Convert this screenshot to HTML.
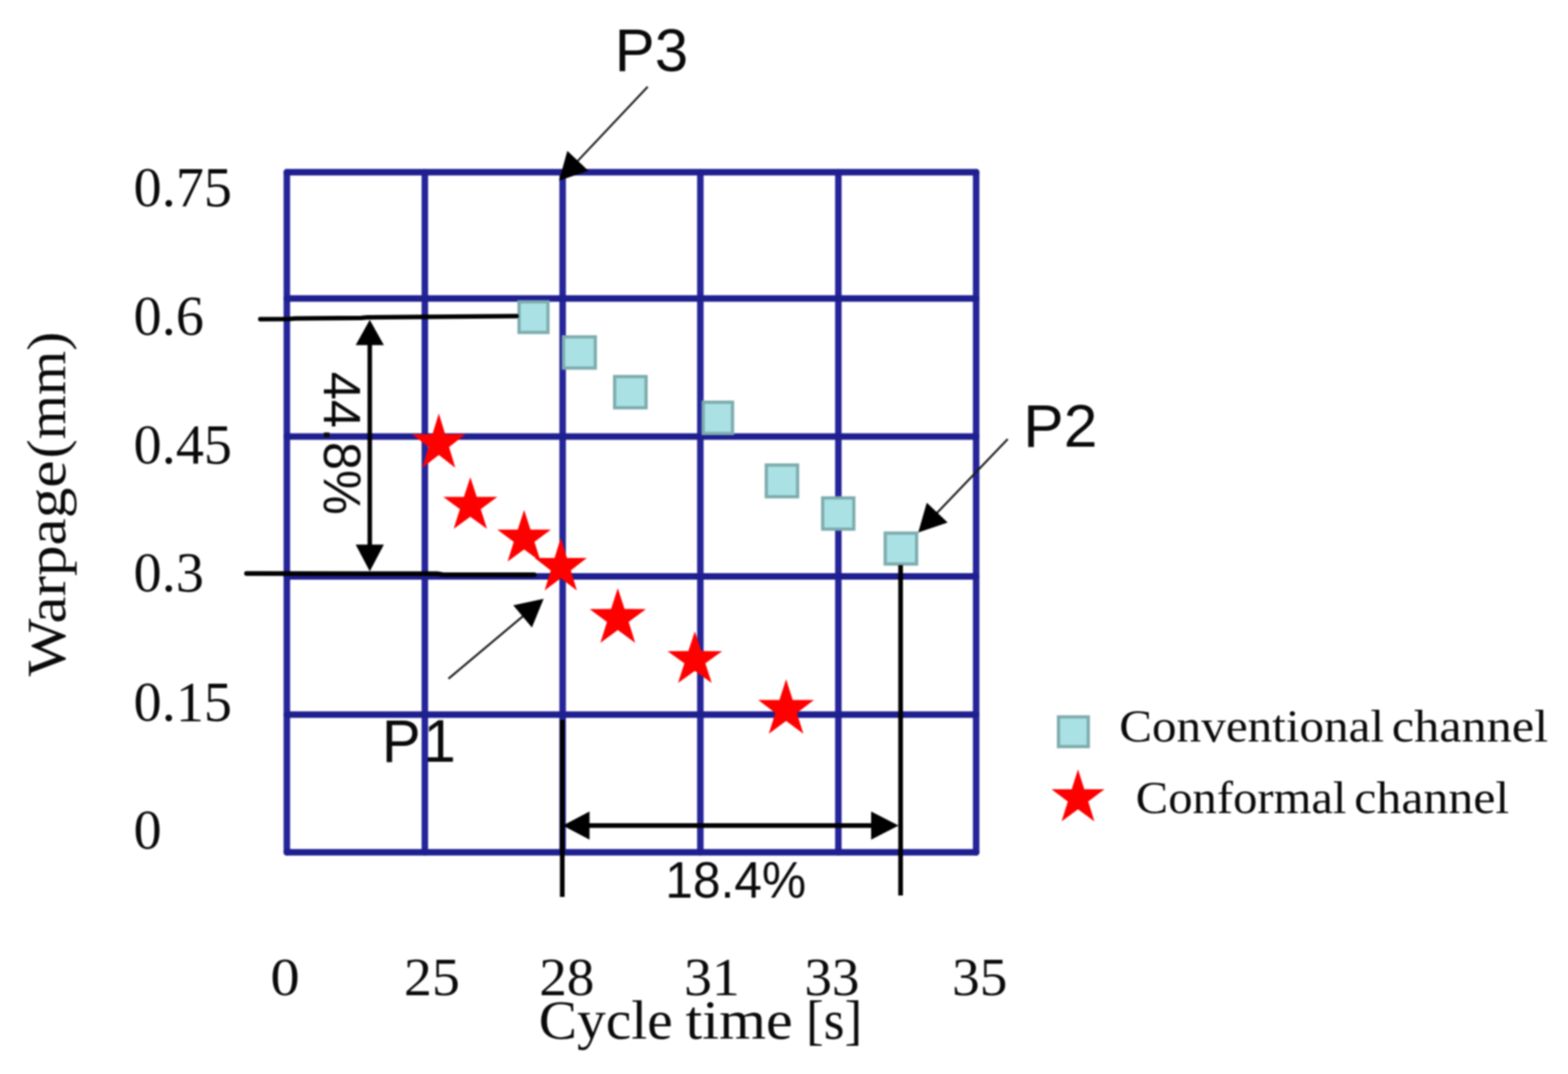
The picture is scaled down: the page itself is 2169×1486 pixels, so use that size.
<!DOCTYPE html>
<html lang="en"><head><meta charset="utf-8"><title>Warpage vs cycle time</title>
<style>html,body{margin:0;padding:0;background:#fff;}body{width:2169px;height:1486px;overflow:hidden;}svg{display:block;filter:blur(1.0px);}text{fill:#0a0a0a;}</style></head><body>
<svg width="2169" height="1486" viewBox="0 0 2169 1486">
<rect x="-20" y="-20" width="2209" height="1526" fill="#fff"/>
<g stroke-width="9" fill="none" stroke-linecap="round">
<line x1="396.8" y1="238.3" x2="396.8" y2="1179.3" stroke="#25259a"/>
<line x1="587.7" y1="238.3" x2="587.7" y2="1179.3" stroke="#25259a"/>
<line x1="778.3" y1="238.3" x2="778.3" y2="1179.3" stroke="#25259a"/>
<line x1="968.8" y1="238.3" x2="968.8" y2="1179.3" stroke="#25259a"/>
<line x1="1159.7" y1="238.3" x2="1159.7" y2="1179.3" stroke="#25259a"/>
<line x1="1350.3" y1="238.3" x2="1350.3" y2="1179.3" stroke="#25259a"/>
<line x1="396.8" y1="238.3" x2="1350.3" y2="238.3" stroke="#1f1f90"/>
<line x1="396.8" y1="413.1" x2="1350.3" y2="413.1" stroke="#1f1f90"/>
<line x1="396.8" y1="604.0" x2="1350.3" y2="604.0" stroke="#1f1f90"/>
<line x1="396.8" y1="797.6" x2="1350.3" y2="797.6" stroke="#1f1f90"/>
<line x1="396.8" y1="988.7" x2="1350.3" y2="988.7" stroke="#1f1f90"/>
<line x1="396.8" y1="1179.3" x2="1350.3" y2="1179.3" stroke="#1f1f90"/>
</g>
<rect x="718.0" y="417.6" width="40.0" height="42.4" fill="#a9e1e4" stroke="#7eacae" stroke-width="4.5"/>
<rect x="779.5" y="466.1" width="44.0" height="43.2" fill="#a9e1e4" stroke="#7eacae" stroke-width="4.5"/>
<rect x="850.2" y="521.0" width="43.5" height="43.2" fill="#a9e1e4" stroke="#7eacae" stroke-width="4.5"/>
<rect x="972.8" y="556.5" width="40.5" height="43.2" fill="#a9e1e4" stroke="#7eacae" stroke-width="4.5"/>
<rect x="1060.0" y="643.4" width="43.3" height="43.9" fill="#a9e1e4" stroke="#7eacae" stroke-width="4.5"/>
<rect x="1138.0" y="688.9" width="43.1" height="43.2" fill="#a9e1e4" stroke="#7eacae" stroke-width="4.5"/>
<rect x="1224.5" y="737.6" width="43.5" height="42.8" fill="#a9e1e4" stroke="#7eacae" stroke-width="4.5"/>
<g stroke="#000" fill="none" stroke-linecap="butt">
<polyline points="360,441.6 400,441.4 408,440.6 500,439.9 508,439.2 714.5,437.4" stroke-width="6.2" stroke-linecap="round"/>
<polyline points="341,793.4 605,793.8 612,795 739,795.2" stroke-width="6.5" stroke-linecap="round"/>
<line x1="511.5" y1="470" x2="511.5" y2="760" stroke-width="6.2"/>
<line x1="777.8" y1="996" x2="777.8" y2="1241" stroke-width="6.5"/>
<line x1="1245.8" y1="782" x2="1245.8" y2="1239" stroke-width="6.5"/>
<line x1="810" y1="1142.2" x2="1210" y2="1142.2" stroke-width="6.5"/>
</g>
<polygon points="607.0,572.1 615.8,600.7 643.9,600.8 621.2,618.5 629.8,647.2 607.0,629.6 584.2,647.2 592.8,618.5 570.1,600.8 598.2,600.7" fill="#ff0000"/>
<polygon points="650.6,660.2 659.5,687.4 688.0,687.5 665.0,704.4 673.7,731.7 650.6,714.9 627.5,731.7 636.2,704.4 613.2,687.5 641.7,687.4" fill="#ff0000"/>
<polygon points="725.0,705.5 733.8,732.7 762.1,732.8 739.3,749.7 747.9,777.0 725.0,760.2 702.1,777.0 710.7,749.7 687.9,732.8 716.2,732.7" fill="#ff0000"/>
<polygon points="775.7,744.2 784.3,771.9 811.8,772.0 789.6,789.2 798.0,816.9 775.7,799.9 753.4,816.9 761.8,789.2 739.6,772.0 767.1,771.9" fill="#ff0000"/>
<polygon points="854.6,813.8 863.9,842.6 893.6,842.7 869.6,860.6 878.7,889.4 854.6,871.7 830.5,889.4 839.6,860.6 815.6,842.7 845.3,842.6" fill="#ff0000"/>
<polygon points="961.2,873.5 970.2,900.8 999.0,900.9 975.7,917.8 984.5,945.1 961.2,928.3 937.9,945.1 946.7,917.8 923.4,900.9 952.2,900.8" fill="#ff0000"/>
<polygon points="1087.4,939.7 1096.6,968.5 1126.0,968.6 1102.3,986.5 1111.3,1015.3 1087.4,997.6 1063.5,1015.3 1072.5,986.5 1048.8,968.6 1078.2,968.5" fill="#ff0000"/>
<polygon points="511.5,442.5 531.0,477.5 492.0,477.5" fill="#000"/>
<polygon points="511.5,790.5 492.0,753.5 531.0,753.5" fill="#000"/>
<polygon points="778.5,1142.2 815.5,1122.7 815.5,1161.7" fill="#000"/>
<polygon points="1243.0,1142.2 1205.0,1161.7 1205.0,1122.7" fill="#000"/>
<line x1="896.0" y1="120.0" x2="796.6" y2="225.4" stroke="#1c1c1c" stroke-width="2.7"/><polygon points="773.3,250.1 784.8,208.7 813.9,236.2" fill="#000"/>
<line x1="1394.0" y1="607.5" x2="1293.7" y2="712.2" stroke="#1c1c1c" stroke-width="2.7"/><polygon points="1270.2,736.7 1282.0,695.4 1310.9,723.1" fill="#000"/>
<line x1="620.3" y1="939.1" x2="726.0" y2="850.4" stroke="#1c1c1c" stroke-width="2.7"/><polygon points="752.0,828.5 735.8,868.3 710.0,837.6" fill="#000"/>
<text y="284.77" font-family='"Liberation Serif", serif' font-size="77.5"><tspan x="184.89" textLength="136.03" lengthAdjust="spacingAndGlyphs">0.75</tspan></text>
<text y="462.57" font-family='"Liberation Serif", serif' font-size="77.5"><tspan x="184.89" textLength="97.17" lengthAdjust="spacingAndGlyphs">0.6</tspan></text>
<text y="640.97" font-family='"Liberation Serif", serif' font-size="77.5"><tspan x="184.89" textLength="136.03" lengthAdjust="spacingAndGlyphs">0.45</tspan></text>
<text y="818.27" font-family='"Liberation Serif", serif' font-size="77.5"><tspan x="184.89" textLength="97.17" lengthAdjust="spacingAndGlyphs">0.3</tspan></text>
<text y="996.57" font-family='"Liberation Serif", serif' font-size="77.5"><tspan x="184.89" textLength="136.03" lengthAdjust="spacingAndGlyphs">0.15</tspan></text>
<text y="1174.37" font-family='"Liberation Serif", serif' font-size="77.5"><tspan x="184.89" textLength="38.87" lengthAdjust="spacingAndGlyphs">0</tspan></text>
<text y="1377.25" font-family='"Liberation Serif", serif' font-size="75"><tspan x="373.96" textLength="40.59" lengthAdjust="spacingAndGlyphs">0</tspan></text>
<text y="1377.25" font-family='"Liberation Serif", serif' font-size="75"><tspan x="558.71" textLength="77.38" lengthAdjust="spacingAndGlyphs">25</tspan></text>
<text y="1377.25" font-family='"Liberation Serif", serif' font-size="75"><tspan x="745.96" textLength="76.30" lengthAdjust="spacingAndGlyphs">28</tspan></text>
<text y="1377.25" font-family='"Liberation Serif", serif' font-size="75"><tspan x="946.24" textLength="77.09" lengthAdjust="spacingAndGlyphs">31</tspan></text>
<text y="1377.25" font-family='"Liberation Serif", serif' font-size="75"><tspan x="1112.68" textLength="76.16" lengthAdjust="spacingAndGlyphs">33</tspan></text>
<text y="1377.25" font-family='"Liberation Serif", serif' font-size="75"><tspan x="1316.97" textLength="76.49" lengthAdjust="spacingAndGlyphs">35</tspan></text>
<text y="1436.74" font-family='"Liberation Serif", serif' font-size="76"><tspan x="745.32" textLength="185.16" lengthAdjust="spacingAndGlyphs">Cycle</tspan> <tspan x="948.37" textLength="148.25" lengthAdjust="spacingAndGlyphs">time</tspan> <tspan x="1115.09" textLength="77.56" lengthAdjust="spacingAndGlyphs">[s]</tspan></text>
<text transform="translate(90.40,936.40) rotate(-90)" y="0" font-family='"Liberation Serif", serif' font-size="77"><tspan x="0.60" textLength="298.63" lengthAdjust="spacingAndGlyphs">Warpage</tspan><tspan x="302.15" textLength="175.24" lengthAdjust="spacingAndGlyphs">(mm)</tspan></text>
<text y="1025.70" font-family='"Liberation Serif", serif' font-size="63"><tspan x="1548.28" textLength="366.43" lengthAdjust="spacingAndGlyphs">Conventional</tspan> <tspan x="1925.39" textLength="216.16" lengthAdjust="spacingAndGlyphs">channel</tspan></text>
<text y="1125.30" font-family='"Liberation Serif", serif' font-size="63"><tspan x="1571.11" textLength="291.44" lengthAdjust="spacingAndGlyphs">Conformal</tspan> <tspan x="1873.31" textLength="214.43" lengthAdjust="spacingAndGlyphs">channel</tspan></text>
<rect x="1464.2" y="991.9" width="41.2" height="41.1" fill="#a9e1e4" stroke="#7eacae" stroke-width="4.5"/>
<polygon points="1491.2,1064.6 1499.9,1092.0 1527.9,1092.1 1505.3,1109.1 1513.9,1136.6 1491.2,1119.7 1468.5,1136.6 1477.1,1109.1 1454.5,1092.1 1482.5,1092.0" fill="#ff0000"/>
<text y="97.50" font-family='"Liberation Sans", sans-serif' font-size="84"><tspan x="850.35" textLength="101.53" lengthAdjust="spacingAndGlyphs">P3</tspan></text>
<text y="617.80" font-family='"Liberation Sans", sans-serif' font-size="84"><tspan x="1415.59" textLength="102.45" lengthAdjust="spacingAndGlyphs">P2</tspan></text>
<text y="1054.00" font-family='"Liberation Sans", sans-serif' font-size="83"><tspan x="528.32" textLength="53.70" lengthAdjust="spacingAndGlyphs">P</tspan><tspan x="585.80" textLength="44.78" lengthAdjust="spacingAndGlyphs">1</tspan></text>
<text y="1241.70" font-family='"Liberation Sans", sans-serif' font-size="70"><tspan x="920.35" textLength="194.82" lengthAdjust="spacingAndGlyphs">18.4%</tspan></text>
<text transform="translate(447.60,515.50) rotate(90)" y="0" font-family='"Liberation Sans", sans-serif' font-size="72.7"><tspan x="-0.97" textLength="197.77" lengthAdjust="spacingAndGlyphs">44.8%</tspan></text>
</svg></body></html>
